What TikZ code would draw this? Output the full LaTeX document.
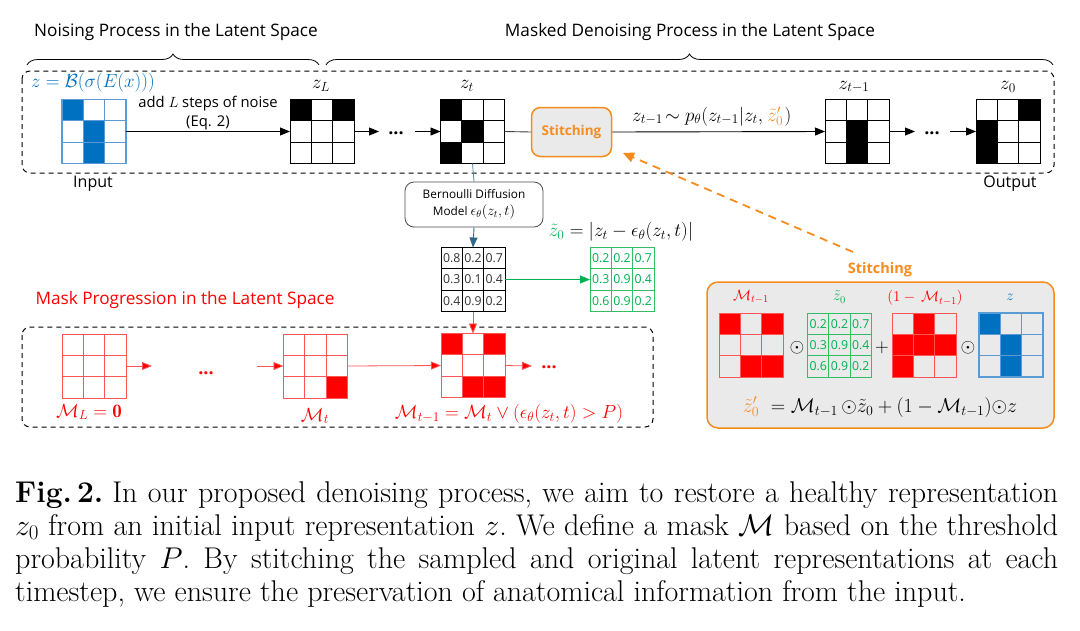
\RequirePackage{fix-cm}
\documentclass[tikz,border=0pt]{standalone}
\usepackage{amsmath,amssymb}
\usepackage{fontspec}
\setsansfont{Open Sans}
\usetikzlibrary{calc,arrows.meta,decorations.pathreplacing}
\definecolor{myblue}{RGB}{0,112,192}
\definecolor{lblue}{RGB}{91,155,213}
\definecolor{myred}{RGB}{255,0,0}
\definecolor{lred}{RGB}{255,85,85}
\definecolor{mygreen}{RGB}{0,176,80}
\definecolor{lgreen}{RGB}{50,190,100}
\definecolor{myorange}{RGB}{247,140,30}
\definecolor{tealc}{RGB}{45,105,135}
\definecolor{boxgray}{RGB}{234,234,234}
\newcommand\cellfill[3]{\foreach \cx/\cy in {#3}{\fill[#2] ($(#1.north west)+(\cx*21.333,\cy*21.333)$) rectangle ++(21.333,21.333);}}
\newcommand\gridlines[2]{\draw[#2] (#1.north west) rectangle (#1.south east);
 \foreach \k in {1,2}{\draw[#2] ($(#1.north west)+(\k*21.333,0)$) -- ($(#1.south west)+(\k*21.333,0)$);
 \draw[#2] ($(#1.north west)+(0,\k*21.333)$) -- ($(#1.north east)+(0,\k*21.333)$);}}
\newcommand\numfill[3]{\foreach \v [count=\i from 0] in {#3}{\pgfmathtruncatemacro\mycc{mod(\i,3)}\pgfmathtruncatemacro\myrr{div(\i,3)}\node[numtext,text=#2] (#1n\i) at ($(#1.north west)+(\mycc*21.333+10.667,\myrr*21.333+10.667)$) {\v};}}
\tikzset{
 gridbox/.style={minimum width=64pt,minimum height=64pt,inner sep=0,outer sep=0},
 lab/.style={font=\sffamily\fontsize{16}{19}\selectfont,inner sep=0},
 biglab/.style={font=\sffamily\fontsize{17.2}{20}\selectfont,inner sep=0},
 mlab/.style={font=\fontsize{19}{22}\selectfont,inner sep=0},
 numtext/.style={font=\sffamily\fontsize{12.3}{12}\selectfont,inner sep=0},
 conn/.style={line width=0.9pt},
 arr/.style={conn,-{Triangle[length=10pt,width=8pt]}},
 redarr/.style={line width=0.8pt,lred,-{Triangle[length=10pt,width=8pt,fill=myred]}},
 dbox/.style={draw,line width=1pt,rounded corners=8pt,dash pattern=on 5pt off 4pt},
 blk/.style={line width=1pt,black},
 bluel/.style={line width=1.3pt,lblue},
 redl/.style={line width=1pt,lred},
 greenl/.style={line width=1pt,lgreen},
 dotsl/.style={font=\sffamily\bfseries\fontsize{18}{18}\selectfont,inner sep=0},
}
\begin{document}
\begin{tikzpicture}[x=1pt,y=-1pt]
\useasboundingbox (0,0) rectangle (1080,630);
\fill[white] (0,0) rectangle (1080,630);
% titles and braces
\node[biglab] (t1) at (176,32) {Noising Process in the Latent Space};
\node[biglab] (t2) at (690,32) {Masked Denoising Process in the Latent Space};
\draw[line width=0.8pt,decorate,decoration={brace,amplitude=11pt}] (27,65) -- (319,65);
\draw[line width=0.8pt,decorate,decoration={brace,amplitude=11pt}] (326,65) -- (1053,65);
% dashed containers
\draw[dbox] (22,71) rectangle (1054,173);
\draw[dbox] (22,327) rectangle (653,427);
% top row grids
\node[gridbox] (gIn) at (94,131.5) {};
\cellfill{gIn}{myblue}{0/0,1/1,1/2}
\gridlines{gIn}{bluel}
\node[gridbox] (gL) at (322,131.5) {};
\cellfill{gL}{black}{0/0,2/0}
\gridlines{gL}{blk}
\node[gridbox] (gT) at (472.5,131.5) {};
\cellfill{gT}{black}{0/0,1/1,0/2}
\gridlines{gT}{blk}
\node[gridbox] (gT1) at (857,131.5) {};
\cellfill{gT1}{black}{1/1,1/2}
\gridlines{gT1}{blk}
\node[gridbox] (g0) at (1008,131.5) {};
\cellfill{g0}{black}{2/0,0/1,0/2}
\gridlines{g0}{blk}
\node[draw=myorange,fill=boxgray,rounded corners=9pt,line width=1.5pt,minimum width=80pt,minimum height=49pt,text=myorange,font=\sffamily\bfseries\fontsize{13.5}{16}\selectfont] (stitch) at (571.5,132) {Stitching};
% labels top
\node[mlab,text=myblue] (lz) at (93,83) {$z=\mathcal{B}(\sigma(E(x)))$};
\node[mlab] (lzL) at (321,86) {$z_L$};
\node[mlab] (lzT) at (467,86) {$z_t$};
\node[mlab] (lzT1) at (854,87) {$z_{t-1}$};
\node[mlab] (lz0) at (1008,87) {$z_0$};
\node[lab] (lin) at (93,184) {Input};
\node[lab] (lout) at (1010,184) {Output};
\node[font=\sffamily\fontsize{14.8}{19}\selectfont,align=center,inner sep=0] (lnoise) at (208,113) {add $L$ steps of noise\\(Eq. 2)};
\node[mlab,anchor=base west] (lsamp) at (632,121) {$z_{t-1}\!\sim p_\theta(z_{t-1}|z_t,$};
\node[mlab,anchor=base west,text=myorange] (lsampb) at ([xshift=4pt]lsamp.base east) {$\tilde z_0'$};
\node[mlab,anchor=base west] (lsampc) at ([xshift=1pt]lsampb.base east) {$)$};
\node[dotsl] (d1) at (396,133) {...};
\node[dotsl] (d2) at (932,133) {...};
\coordinate (a1) at (379,131.5);
\coordinate (a2) at (415,131.5);
\coordinate (b1) at (915,131.5);
\coordinate (b2) at (950,131.5);
\draw[arr] (gIn.east) -- (gL.west);
\draw[arr] (gL.east) -- (a1);
\draw[arr] (a2) -- (gT.west);
\draw[conn,black!75] (gT.east) -- (stitch.west);
\draw[arr] (stitch.east) -- (gT1.west);
\draw[arr] (gT1.east) -- (b1);
\draw[arr] (b2) -- (g0.west);
% Bernoulli model
\node[draw=black!70,rounded corners=9pt,line width=0.8pt,minimum width=138pt,minimum height=45pt,align=center,font=\sffamily\fontsize{11.8}{17}\selectfont] (bern) at (474,204.5) {Bernoulli Diffusion\\Model {\fontsize{14.5}{17}\selectfont$\epsilon_\theta(z_t,t)$}};
\draw[conn,tealc!80,line width=0.8pt] (gT.south) -- (bern.north);
\node[gridbox] (gEps) at (473,279.5) {};
\gridlines{gEps}{blk}
\numfill{gEps}{black!80}{0.8,0.2,0.7,0.3,0.1,0.4,0.4,0.9,0.2}
\node[gridbox] (gZ0) at (622,279.5) {};
\gridlines{gZ0}{greenl}
\numfill{gZ0}{mygreen}{0.2,0.2,0.7,0.3,0.9,0.4,0.6,0.9,0.2}
\draw[arr,tealc] (bern.south) -- (gEps.north);
\draw[arr,mygreen,line width=0.8pt] (gEps.east) -- (gZ0.west);
\node[mlab] (lz0t) at (621,232) {$\textcolor{mygreen}{\tilde z_0} = |z_t-\epsilon_\theta(z_t,t)|$};
% mask progression
\node[biglab,text=myred] (lmask) at (185,300) {Mask Progression in the Latent Space};
\node[gridbox] (gML) at (94,366) {};
\gridlines{gML}{redl}
\node[gridbox] (gMt) at (315.5,366) {};
\cellfill{gMt}{myred}{2/2}
\gridlines{gMt}{redl}
\node[gridbox] (gMt1) at (473,365.5) {};
\cellfill{gMt1}{myred}{0/0,2/0,1/2,2/2}
\gridlines{gMt1}{redl}
\coordinate (c1) at (152,366);
\coordinate (c2) at (257,366);
\coordinate (c3) at (532,366);
\node[dotsl,text=myred] (d3) at (206,373) {...};
\node[dotsl,text=myred] (d4) at (549,367) {...};
\draw[redarr] (gML.east) -- (c1);
\draw[redarr] (c2) -- (gMt.west);
\draw[redarr] (gMt.east) -- (gMt1.west);
\draw[redarr] (gMt1.east) -- (c3);
\draw[redarr] (gEps.south) -- (gMt1.north);
\node[mlab,text=myred] (lML) at (89,412) {$\mathcal{M}_L=\mathbf{0}$};
\node[mlab,text=myred] (lMt) at (315,416) {$\mathcal{M}_t$};
\node[mlab,text=myred] (lMt1) at (509,414) {$\mathcal{M}_{t-1}=\mathcal{M}_t\vee(\epsilon_\theta(z_t,t)>P)$};
% stitching detail
\node[font=\sffamily\bfseries\fontsize{14.5}{16}\selectfont,text=myorange,inner sep=0] (lst) at (880,270) {Stitching};
\node[draw=myorange,fill=boxgray,rounded corners=11pt,line width=1.5pt,minimum width=347pt,minimum height=146pt] (sbox) at (880.5,355) {};
\node[gridbox] (s1) at (751,345) {};
\cellfill{s1}{myred}{0/0,2/0,1/2,2/2}
\gridlines{s1}{redl}
\node[gridbox] (s2) at (839.5,345) {};
\gridlines{s2}{greenl}
\numfill{s2}{mygreen}{0.2,0.2,0.7,0.3,0.9,0.4,0.6,0.9,0.2}
\node[gridbox] (s3) at (924,345) {};
\cellfill{s3}{myred}{1/0,0/1,1/1,2/1,0/2}
\gridlines{s3}{redl}
\node[gridbox] (s4) at (1011,345) {};
\cellfill{s4}{myblue}{0/0,1/1,1/2}
\gridlines{s4}{bluel}
\node[inner sep=0,text=myred,font=\fontsize{15}{18}\selectfont] (ls1) at (751,297) {$\mathcal{M}_{t-1}$};
\node[inner sep=0,text=mygreen,font=\fontsize{15}{18}\selectfont] (ls2) at (839.5,297) {$\tilde z_0$};
\node[inner sep=0,text=myred,font=\fontsize{15}{18}\selectfont] (ls3) at (925,298) {$(1-\,\mathcal{M}_{t-1})$};
\node[inner sep=0,text=myblue,font=\fontsize{15}{18}\selectfont] (ls4) at (1010,297) {$z$};
\node[mlab] (op1) at (797,348) {$\odot$};
\node[mlab] (op2) at (882,348) {$+$};
\node[mlab] (op3) at (968,348) {$\odot$};
\node[inner sep=0,font=\fontsize{20}{22}\selectfont] (lform) at (880,407) {$\textcolor{myorange}{\tilde z_0'}\ = \mathcal{M}_{t-1}\,{\odot}\tilde z_0 + (1-\mathcal{M}_{t-1}){\odot} z$};
\coordinate (o1) at (853,252);
\draw[myorange,line width=1.8pt,dash pattern=on 8pt off 6pt,-{Triangle[length=11pt,width=10pt]}] (o1) -- (623,153);
% caption
\node[anchor=north west,inner sep=0,text width=1043pt,align=justify,font=\rmfamily\fontsize{30}{33}\selectfont] (cap) at (15,481) {\frenchspacing\textbf{Fig.\,2.}\hspace{0.3em}In our proposed denoising process, we aim to restore a healthy representation $z_0$ from an initial input representation $z$. We define a mask $\mathcal{M}$ based on the threshold probability $P$. By stitching the sampled and original latent representations at each timestep, we ensure the preservation of anatomical information from the input.};
\end{tikzpicture}
\end{document}
